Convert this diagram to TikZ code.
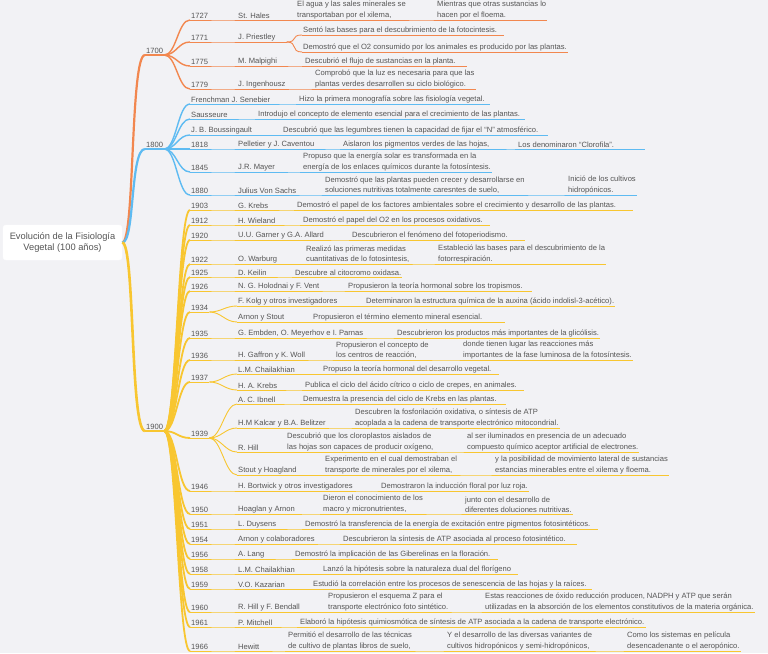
\documentclass[tikz,border=0pt]{standalone}
\usepackage{fontspec}
\setmainfont{Liberation Sans}
\usetikzlibrary{calc}
\definecolor{bg}{HTML}{F2F2F5}
\definecolor{tg}{HTML}{555555}
\definecolor{cor}{HTML}{F2874F}
\definecolor{cbl}{HTML}{5EBBF2}
\definecolor{cye}{HTML}{F8C630}
\tikzset{ul/.style={anchor=south west,inner xsep=1pt,inner ysep=1.2pt,align=left,text=tg,font=\fontsize{7.6}{10.5}\selectfont}}
\def\cc{cor}
\newcommand\R[5][0.9]{\node[ul] (#2) at (#3,#4) {#5}; \draw[\cc,line width=#1pt] (#2.south west)--(#2.south east);}
\newcommand\C[3][0.9]{\draw[\cc,line width=#1pt] (#2.south east) .. controls ($(#2.south east)+(12,0)$) and ($(#3.south west)+(-12,0)$) .. (#3.south west);}
\begin{document}
\begin{tikzpicture}[x=1pt,y=-1pt]
\fill[bg] (0,0) rectangle (768,653);
\useasboundingbox (0,0) rectangle (768,653);
\node[draw=white,fill=white,rounded corners=3pt,align=center,text=tg,font=\fontsize{9.3}{11}\selectfont,minimum width=119pt,minimum height=35pt] (root) at (62.5,242.5) {Evolución de la Fisiología\\Vegetal (100 años)};
% ---------- 1700
\def\cc{cor}
\R[1.6]{c17}{145}{55}{1700}
\draw[cor,line width=2.2pt] (root.east) .. controls (135,243) and (130,55) .. (c17.south west);
\R{y1727}{190}{20}{1727}\C[1.4]{c17}{y1727}
\R{n1727}{237}{20}{St. Hales}\C{y1727}{n1727}
\R{d1727a}{296}{20}{El agua y las sales minerales se\\transportaban por el xilema,}\C{n1727}{d1727a}
\R{d1727b}{436}{20}{Mientras que otras sustancias lo\\hacen por el floema.\hspace{30pt}}\C{d1727a}{d1727b}
\R{y1771}{190}{42}{1771}\C[1.4]{c17}{y1771}
\R{n1771}{237}{42}{J. Priestley\hspace{10pt}}\C{y1771}{n1771}
\R{d1771a}{302}{35}{Sentó las bases para el descubrimiento de la fotocintesis.\hspace{6pt}}\C{n1771}{d1771a}
\R{d1771b}{302}{52}{Demostró que el O2 consumido por los animales es producido por las plantas.}\C{n1771}{d1771b}
\R{y1775}{190}{66}{1775}\C[1.4]{c17}{y1775}
\R{n1775}{237}{66}{M. Malpighi\hspace{8pt}}\C{y1775}{n1775}
\R{d1775}{304}{66}{Descubrió el flujo de sustancias en la planta.\hspace{10pt}}\C{n1775}{d1775}
\R{y1779}{190}{89}{1779}\C[1.4]{c17}{y1779}
\R{n1779}{237}{89}{J. Ingenhousz}\C{y1779}{n1779}
\R{d1779}{314}{89}{Comprobó que la luz es necesaria para que las\\plantas verdes desarrollen su ciclo biológico.\hspace{20pt}}\C{n1779}{d1779}
% ---------- 1800
\def\cc{cbl}
\R[1.6]{c18}{145}{149}{1800}
\draw[cbl,line width=2.2pt] (root.east) .. controls (135,243) and (130,149) .. (c18.south west);
\R{n1a}{190}{104}{Frenchman J. Senebier\hspace{6pt}}\C[1.4]{c18}{n1a}
\R{d1a}{298}{104}{Hizo la primera monografía sobre las fisiología vegetal.\hspace{4pt}}\C{n1a}{d1a}
\R{n1b}{190}{119}{Sausseure\hspace{8pt}}\C[1.4]{c18}{n1b}
\R{d1b}{257}{119}{Introdujo el concepto de elemento esencial para el crecimiento de las plantas.\hspace{4pt}}\C{n1b}{d1b}
\R{n1c}{190}{135}{J. B. Boussingault\hspace{4pt}}\C[1.4]{c18}{n1c}
\R{d1c}{282}{135}{Descubrió que las legumbres tienen la capacidad de fijar el “N” atmosférico.\hspace{8pt}}\C{n1c}{d1c}
\R{y1818}{190}{149}{1818}\C[1.4]{c18}{y1818}
\R{n1818}{237}{149}{Pelletier y J. Caventou\hspace{8pt}}\C{y1818}{n1818}
\R{d1818a}{342}{149}{Aislaron los pigmentos verdes de las hojas,\hspace{14pt}}\C{n1818}{d1818a}
\R{d1818b}{517}{149}{Los denominaron “Clorofila”.\hspace{30pt}}\C{d1818a}{d1818b}
\R{y1845}{190}{172}{1845}\C[1.4]{c18}{y1845}
\R{n1845}{237}{172}{J.R. Mayer\hspace{10pt}}\C{y1845}{n1845}
\R{d1845}{302}{172}{Propuso que la energía solar es transformada en la\\energía de los enlaces químicos durante la fotosíntesis.\hspace{6pt}}\C{n1845}{d1845}
\R{y1880}{190}{195}{1880}\C[1.4]{c18}{y1880}
\R{n1880}{237}{195}{Julius Von Sachs}\C{y1880}{n1880}
\R{d1880a}{324}{195}{Demostró que las plantas pueden crecer y desarrollarse en\\soluciones nutritivas totalmente caresntes de suelo,\hspace{10pt}}\C{n1880}{d1880a}
\R{d1880b}{567}{195}{Inició de los cultivos\\hidropónicos.\hspace{60pt}}\C{d1880a}{d1880b}
% ---------- 1900
\def\cc{cye}
\R[2]{c19}{145}{431}{1900}
\draw[cye,line width=2.6pt] (root.east) .. controls (135,243) and (130,431) .. (c19.south west);
\newcommand\Y[6]{\R{y#1}{190}{#2}{#1}\C[1.8]{c19}{y#1}\R{n#1}{237}{#2}{#3}\C{y#1}{n#1}\R{d#1}{#4}{#2}{#5}\C{n#1}{d#1}}
\Y{1903}{210}{G. Krebs\hspace{8pt}}{296}{Demostró el papel de los factores ambientales sobre el crecimiento y desarrollo de las plantas.\hspace{16pt}}{}
\Y{1912}{225}{H. Wieland\hspace{6pt}}{302}{Demostró el papel del O2 en los procesos oxidativos.\hspace{6pt}}{}
\Y{1920}{240}{U.U. Garner y G.A. Allard\hspace{4pt}}{351}{Descubrieron el fenómeno del fotoperiodismo.\hspace{16pt}}{}
\Y{1922}{264}{O. Warburg\hspace{4pt}}{305}{Realizó las primeras medidas\\cuantitativas de lo fotosintesis,}{}
\R{d1922b}{437}{264}{Estableció las bases para el descubrimiento de la\\fotorrespiración.\hspace{100pt}}\C{d1922}{d1922b}
\Y{1925}{277}{D. Keilin\hspace{8pt}}{294}{Descubre al citocromo oxidasa.}{}
\Y{1926}{291}{N. G. Holodnai y F. Vent}{347}{Propusieron la teoría hormonal sobre los tropismos.\hspace{8pt}}{}
\R{y1934}{190}{312}{1934}\C[1.8]{c19}{y1934}
\R{n1934a}{237}{306}{F. Kolg y otros investigadores\hspace{2pt}}\C{y1934}{n1934a}
\R{d1934a}{365}{306}{Determinaron la estructura química de la auxina (ácido indolisl-3-acético).}\C{n1934a}{d1934a}
\R{n1934b}{237}{322}{Arnon y Stout\hspace{4pt}}\C{y1934}{n1934b}
\R{d1934b}{312}{322}{Propusieron el término elemento mineral esencial.\hspace{22pt}}\C{n1934b}{d1934b}
\Y{1935}{338}{G. Embden, O. Meyerhov e I. Parnas}{396}{Descubrieron los productos más importantes de la glicólisis.}{}
\Y{1936}{360}{H. Gaffron y K. Woll}{335}{Propusieron el concepto de\\los centros de reacción,}{}
\R{d1936b}{462}{360}{donde tienen lugar las reacciones más\\importantes de la fase luminosa de la fotosíntesis.}\C{d1936}{d1936b}
\R{y1937}{190}{382}{1937}\C[1.8]{c19}{y1937}
\R{n1937a}{237}{374}{L.M. Chailakhian}\C{y1937}{n1937a}
\R{d1937a}{322}{374}{Propuso la teoría hormonal del desarrollo vegetal.\hspace{6pt}}\C{n1937a}{d1937a}
\R{n1937b}{237}{390}{H. A. Krebs\hspace{6pt}}\C{y1937}{n1937b}
\R{d1937b}{304}{390}{Publica el ciclo del ácido cítrico o ciclo de crepes, en animales.\hspace{6pt}}\C{n1937b}{d1937b}
\R{y1939}{190}{438}{1939}\C[1.8]{c19}{y1939}
\R{n1939a}{237}{404}{A. C. Ibnell\hspace{6pt}}\C{y1939}{n1939a}
\R{d1939a}{302}{404}{Demuestra la presencia del ciclo de Krebs en las plantas.\hspace{8pt}}\C{n1939a}{d1939a}
\R{n1939b}{237}{428}{H.M Kalcar y B.A. Belitzer}\C{y1939}{n1939b}
\R{d1939b}{354}{428}{Descubren la fosforilación oxidativa, o síntesis de ATP\\acoplada a la cadena de transporte electrónico mitocondrial.\hspace{6pt}}\C{n1939b}{d1939b}
\R{n1939c}{237}{452}{R. Hill\hspace{4pt}}\C{y1939}{n1939c}
\R{d1939c}{286}{452}{Descubrió que los cloroplastos aislados de\\las hojas son capaces de producir oxígeno,}\C{n1939c}{d1939c}
\R{d1939d}{466}{452}{al ser iluminados en presencia de un adecuado\\compuesto químico aceptor artificial de electrones.}\C{d1939c}{d1939d}
\R{n1939e}{237}{475}{Stout y Hoagland\hspace{4pt}}\C{y1939}{n1939e}
\R{d1939e}{324}{475}{Experimento en el cual demostraban el\\transporte de minerales por el xilema,}\C{n1939e}{d1939e}
\R{d1939f}{494}{475}{y la posibilidad de movimiento lateral de sustancias\\estancias minerables entre el xilema y floema.}\C{d1939e}{d1939f}
\Y{1946}{491}{H. Bortwick y otros investigadores}{380}{Demostraron la inducción floral por luz roja.}{}
\Y{1950}{514}{Hoaglan y Arnon\hspace{4pt}}{322}{Dieron el conocimiento de los\\macro y micronutrientes,}{}
\R{d1950b}{464}{514}{junto con el desarrollo de\\diferentes doluciones nutritivas.}\C{d1950}{d1950b}
\Y{1951}{529}{L. Duysens\hspace{8pt}}{304}{Demostró la transferencia de la energía de excitación entre pigmentos fotosintéticos.\hspace{6pt}}{}
\Y{1954}{544}{Arnon y colaboradores}{342}{Descubrieron la síntesis de ATP asociada al proceso fotosintético.\hspace{10pt}}{}
\Y{1956}{559}{A. Lang\hspace{8pt}}{294}{Demostró la implicación de las Giberelinas en la floración.\hspace{6pt}}{}
\Y{1958}{574}{L.M. Chailakhian}{322}{Lanzó la hipótesis sobre la naturaleza dual del florígeno\hspace{6pt}}{}
\Y{1959}{589}{V.O. Kazarian}{312}{Estudió la correlación entre los procesos de senescencia de las hojas y la raíces.\hspace{4pt}}{}
\Y{1960}{612}{R. Hill y F. Bendall}{327}{Propusieron el esquema Z para el\\transporte electrónico foto sintético.}{}
\R{d1960b}{484}{612}{Estas reacciones de óxido reducción producen, NADPH y ATP que serán\\utilizadas en la absorción de los elementos constitutivos de la materia orgánica.}\C{d1960}{d1960b}
\Y{1961}{627}{P. Mitchell\hspace{6pt}}{299}{Elaboró la hipótesis quimiosmótica de síntesis de ATP asociada a la cadena de transporte electrónico.}{}
\Y{1966}{651}{Hewitt\hspace{10pt}}{287}{Permitió el desarrollo de las técnicas\\de cultivo de plantas libros de suelo,}{}
\R{d1966b}{446}{651}{Y el desarrollo de las diversas variantes de\\cultivos hidropónicos y semi-hidropónicos,}\C{d1966}{d1966b}
\R{d1966c}{626}{651}{Como los sistemas en película\\desencadenante o el aeropónico.}\C{d1966b}{d1966c}
\end{tikzpicture}
\end{document}
